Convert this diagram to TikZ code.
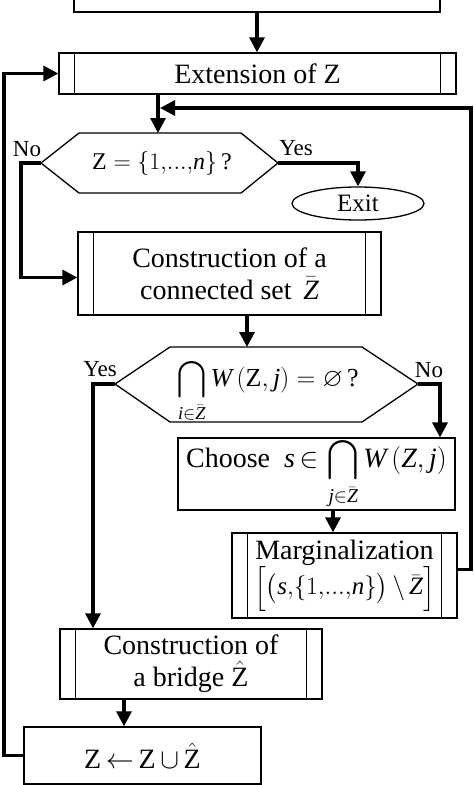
\documentclass[tikz,border=0pt]{standalone}
\usepackage{fix-cm}
\usepackage{amsmath}
\usepackage{amssymb}
\usepackage{fontspec}
\setmainfont{Liberation Serif}
\usetikzlibrary{arrows.meta,shapes.geometric,calc}
\newcommand{\dotsx}{1{,}\mathrm{...}{,}\mathit{n}}
\begin{document}
\begin{tikzpicture}[x=1pt,y=-1pt,
  box/.style={draw, line width=1.3pt, inner sep=0pt, align=center, font=\fontsize{28}{32}\selectfont},
  arr/.style={line width=3.2pt, -{Triangle[width=15pt,length=15pt]}},
  lbl/.style={font=\fontsize{23}{26}\selectfont, inner sep=0pt},
  hexa/.style={line width=1.3pt, line join=miter}]
\useasboundingbox (0,0) rectangle (474,785);
% boxes
\node[box, minimum width=366pt, minimum height=44pt] (top) at (257,-10) {};
\node[box, minimum width=397pt, minimum height=41pt] (ext) at (257.5,73.5) {Extension of $\mathrm{Z}$};
\node[draw, ellipse, line width=1.3pt, minimum width=132pt, minimum height=33pt, inner sep=0pt,
      font=\fontsize{25}{28}\selectfont] (exit) at (358,203.5) {Exit};
\node[box, minimum width=303pt, minimum height=83pt] (cons) at (229.5,273.5)
  {Construction of a\\connected set \,$\bar{\mathit{Z}}$};
\node[box, minimum width=277pt, minimum height=66pt] (choose) at (316.5,474)
  {Choose\ \ $\mathit{s}\,{\in}\,\displaystyle\bigcap_{\scriptstyle \mathit{j}\in\bar{\mathit{Z}}}\mathit{W}\,(\mathit{Z},\mathit{j})$};
\node[box, minimum width=225pt, minimum height=85pt] (marg) at (344.5,575.5)
  {Marginalization\\{\fontsize{25}{30}\selectfont$\Big[\big(\mathit{s}{,}\{\dotsx\}\big)\,{\setminus}\,\bar{\mathit{Z}}\Big]$}};
\node[box, minimum width=262pt, minimum height=70pt] (bridge) at (191,664)
  {Construction of\\a bridge $\hat{\mathrm{Z}}$};
\node[box, minimum width=237pt, minimum height=57pt] (bot) at (142.5,755.5)
  {$\mathrm{Z}\,{\leftarrow}\,\mathrm{Z}\,{\cup}\,\hat{\mathrm{Z}}$};
\foreach \n in {ext,cons,marg,bridge}{
  \draw[line width=1.3pt] ([xshift=16pt]\n.north west) -- ([xshift=16pt]\n.south west);
  \draw[line width=1.3pt] ([xshift=-16pt]\n.north east) -- ([xshift=-16pt]\n.south east);
}
% hexagon 1
\coordinate (h1w) at (41,163);
\coordinate (h1e) at (278,163);
\coordinate (h1n) at (158,133);
\draw[hexa] (h1w) -- (79,133) -- (241,133) -- (h1e) -- (241,193) -- (79,193) -- cycle;
\node[font=\fontsize{24}{28}\selectfont] (h1) at (162,163) {$\mathrm{Z}=\{\dotsx\}$\,?};
% hexagon 2
\coordinate (h2w) at (115,384);
\coordinate (h2e) at (418,384);
\coordinate (h2n) at (247,347);
\draw[hexa] (h2w) -- (170,347) -- (362,347) -- (h2e) -- (362,422) -- (170,422) -- cycle;
\node[font=\fontsize{26}{30}\selectfont] (h2) at (268,391)
  {$\displaystyle\bigcap_{\scriptstyle \mathit{i}\in\bar{\mathit{Z}}}\mathit{W}\,(\mathrm{Z},\mathit{j})=\varnothing$\,?};
% labels
\node[lbl] (no1) at (27,149) {No};
\node[lbl] (yes1) at (296,148) {Yes};
\node[lbl] (yes2) at (100,369) {Yes};
\node[lbl] (no2) at (429,370) {No};
% connectors
\coordinate (r1) at (471,108);
\coordinate (j1) at (160,108);
\coordinate (c2) at (440,384);
\coordinate (c3) at (93,384);
\coordinate (c4) at (4,0);
\draw[arr] (top.south) -- (top.south |- ext.north);
\draw[arr] (ext.south -| h1n) -- (h1n);
\draw[arr] ([yshift=6pt]marg.east) -| (r1) -- (j1);
\draw[arr] (h1e) -| (exit.north);
\draw[arr] (h1w) -- ++(-20,0) |- ([yshift=-4pt]cons.west);
\draw[arr] (cons.south -| h2n) -- (h2n);
\draw[arr] (h2e) -- (c2) -- (c2 |- choose.north);
\draw[arr] ([xshift=16.5pt]choose.south) -- ([xshift=16.5pt]choose.south |- marg.north);
\draw[arr] (h2w) -- (c3) -- (c3 |- bridge.north);
\draw[arr] ([xshift=-67pt]bridge.south) -- ([xshift=-67pt]bridge.south |- bot.north);
\draw[arr] (bot.west) -- (c4 |- bot.west) -- (c4 |- ext.west) -- (ext.west);
\end{tikzpicture}
\end{document}
